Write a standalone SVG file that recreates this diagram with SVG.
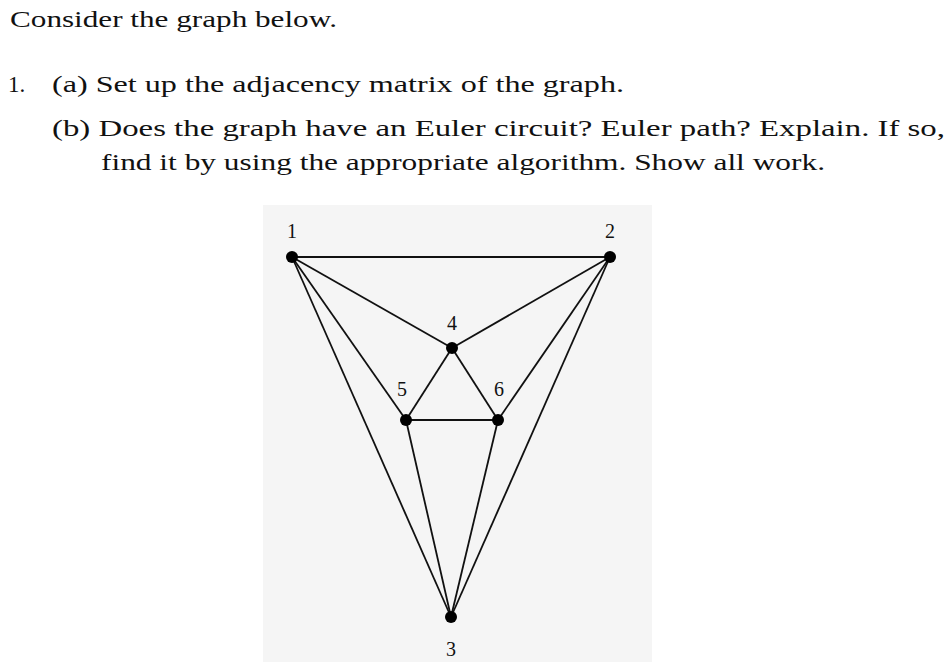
<svg xmlns="http://www.w3.org/2000/svg" width="950" height="662" viewBox="0 0 950 662">
<style>
.t{font-family:"Liberation Serif","DejaVu Serif",serif;font-size:23px;fill:#111}
.l{font-family:"Liberation Serif","DejaVu Serif",serif;font-size:20px;fill:#111;text-anchor:middle}
.e line{stroke:#111;stroke-width:1.8}
.n{fill:#000}
</style>
<rect width="950" height="662" fill="#fff"/>
<text class="t" x="10" y="27" textLength="327" lengthAdjust="spacingAndGlyphs">Consider the graph below.</text>
<text class="t" x="8" y="92">1.</text>
<text class="t" x="52" y="92" textLength="572" lengthAdjust="spacingAndGlyphs">(a)  Set up the adjacency matrix of the graph.</text>
<text class="t" x="52" y="136" textLength="893" lengthAdjust="spacingAndGlyphs">(b)  Does the graph have an Euler circuit? Euler path? Explain.  If so,</text>
<text class="t" x="101" y="170" textLength="724" lengthAdjust="spacingAndGlyphs">find it by using the appropriate algorithm. Show all work.</text>
<rect x="263" y="205" width="389" height="457" fill="#f5f5f5"/>
<g id="edges" class="e">
<line x1="292" y1="257" x2="610" y2="257"/>
<line x1="292" y1="257" x2="452" y2="348"/>
<line x1="610" y1="257" x2="452" y2="348"/>
<line x1="292" y1="257" x2="406" y2="420"/>
<line x1="292" y1="257" x2="451" y2="617"/>
<line x1="610" y1="257" x2="498" y2="420"/>
<line x1="610" y1="257" x2="451" y2="617"/>
<line x1="452" y1="348" x2="406" y2="420"/>
<line x1="452" y1="348" x2="498" y2="420"/>
<line x1="406" y1="420" x2="498" y2="420"/>
<line x1="406" y1="420" x2="451" y2="617"/>
<line x1="498" y1="420" x2="451" y2="617"/>
</g>
<g id="n1"><circle class="n" cx="292" cy="257" r="6"/><text class="l" x="292" y="238">1</text></g>
<g id="n2"><circle class="n" cx="610" cy="257" r="6"/><text class="l" x="610" y="238">2</text></g>
<g id="n3"><circle class="n" cx="451" cy="617" r="6"/><text class="l" x="451" y="656">3</text></g>
<g id="n4"><circle class="n" cx="452" cy="348" r="6"/><text class="l" x="452" y="330">4</text></g>
<g id="n5"><circle class="n" cx="406" cy="420" r="6"/><text class="l" x="402" y="396">5</text></g>
<g id="n6"><circle class="n" cx="498" cy="420" r="6"/><text class="l" x="499" y="396">6</text></g>
</svg>
